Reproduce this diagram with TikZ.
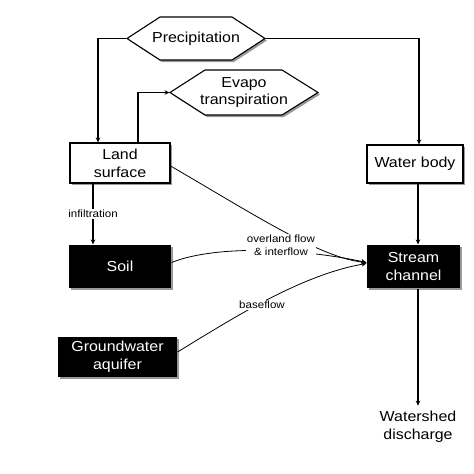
\documentclass[tikz,border=0pt]{standalone}
\usepackage{fontspec}
\setmainfont[FakeStretch=1.1]{Liberation Sans}
\usetikzlibrary{arrows.meta,shadows}
\begin{document}
\begin{tikzpicture}[x=1pt,y=-1pt,
  line width=1.1pt,
  arr/.style={-{Stealth[length=5pt,width=4.5pt]}},
  flow/.style={arr,line width=0.8pt},
  mainfont/.style={font=\fontsize{14.5}{18}\selectfont},
  wbox/.style={mainfont,draw=black,fill=white,line width=1.1pt,align=center,inner sep=0pt,
    drop shadow={shadow xshift=2pt,shadow yshift=-2pt,fill=black!40,opacity=1}},
  bbox/.style={mainfont,fill=black,text=white,align=center,inner sep=0pt,
    drop shadow={shadow xshift=2pt,shadow yshift=-2pt,fill=black!40,opacity=1}},
  hexnode/.style={mainfont,inner sep=0pt,align=center},
  hexshape/.style={draw=black,fill=white,line width=1.1pt},
  hexshadow/.style={fill=black!40},
  lbl/.style={fill=white,inner sep=1pt,align=center,font=\fontsize{10.5}{12.5}\selectfont},
]
\useasboundingbox (0,0) rectangle (474,474);
\fill[white] (0,0) rectangle (474,474);

% hexagons
\fill[hexshadow] (129,40.5) -- (162,19) -- (234,19) -- (267,40.5) -- (234,62) -- (162,62) -- cycle;
\draw[hexshape] (127,38.5) -- (160,17) -- (232,17) -- (265,38.5) -- (232,60) -- (160,60) -- cycle;
\node[hexnode,minimum width=138pt,minimum height=43pt] (prec) at (196,38.5) {Precipitation};

\fill[hexshadow] (172,94.5) -- (207,72) -- (284,72) -- (320,94.5) -- (284,117) -- (207,117) -- cycle;
\draw[hexshape] (170,92.5) -- (205,70) -- (282,70) -- (318,92.5) -- (282,115) -- (205,115) -- cycle;
\node[hexnode,minimum width=148pt,minimum height=45pt,font=\fontsize{14.5}{17}\selectfont] (evap) at (244,92.5) {Evapo\\transpiration};

% boxes
\node[wbox,minimum width=100pt,minimum height=40pt] (land) at (120,163) {Land\\surface};
\node[wbox,minimum width=96pt,minimum height=38pt] (water) at (415,164) {Water body};
\node[bbox,minimum width=102pt,minimum height=43pt] (soil) at (120,266.5) {Soil};
\node[bbox,minimum width=93pt,minimum height=43pt] (stream) at (413.5,266.5) {Stream\\channel};
\node[bbox,minimum width=119pt,minimum height=40pt] (ground) at (117.5,357) {Groundwater\\aquifer};
\node[mainfont,align=center,inner sep=5pt] (dis) at (418,427) {Watershed\\discharge};

% connectors
\draw[arr] (prec.west) -| ([xshift=-22pt]land.north);
\draw[arr] (prec.east) -| ([xshift=4pt]water.north);
\draw[arr] ([xshift=18pt]land.north) |- (evap.west);
\draw[arr] ([xshift=-27pt]land.south) -- node[lbl] (inf) {infiltration} ([xshift=-27pt]soil.north);
\draw[arr] ([xshift=3pt]water.south) -- ([xshift=4.5pt]stream.north);
\draw[arr] ([xshift=4.5pt]stream.south) -- (dis.north);

\draw[flow] ([yshift=-3pt]land.east) .. controls (250,212) and (320,258) .. ([yshift=4pt]stream.west);
\draw[flow] ([yshift=4pt]soil.east) .. controls (215,245) and (300,248) .. ([yshift=4pt]stream.west);
\draw[flow] ([yshift=5pt]ground.east) .. controls (230,320) and (300,275) .. ([yshift=3pt]stream.west);

\node[lbl] (ov) at (281,245) {overland flow\\\& interflow};
\node[lbl] (bf) at (262,305) {baseflow};
\end{tikzpicture}
\end{document}
